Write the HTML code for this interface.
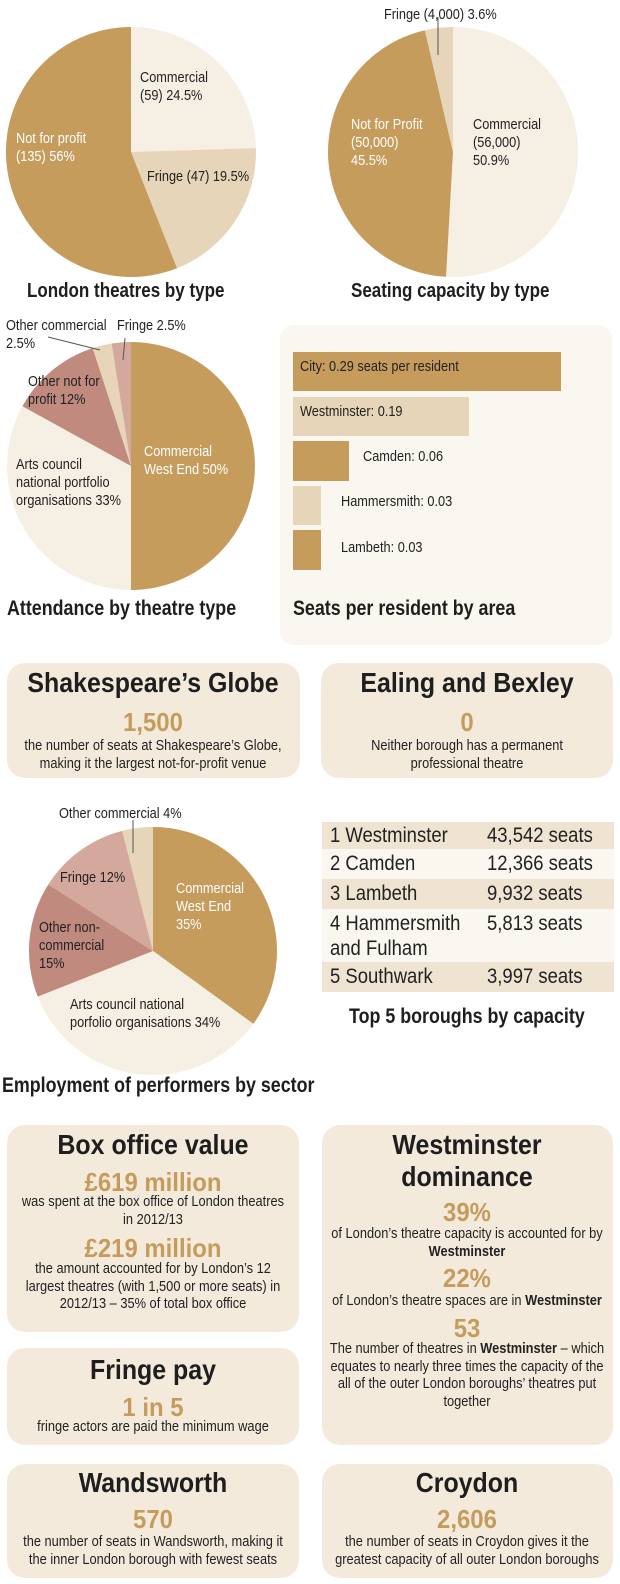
<!DOCTYPE html>
<html><head><meta charset="utf-8"><style>
body{margin:0;width:620px;height:1584px;background:#fff;position:relative;overflow:hidden;font-family:"Liberation Sans",sans-serif;color:#222}
.a{position:absolute;transform:scaleX(.85);transform-origin:left top;white-space:nowrap}
.t{font-weight:bold;font-size:20px;line-height:24px;color:#1e1e1e}
.l{font-size:15px;line-height:18px}
.w{color:#fff}
.box{position:absolute;background:#f3eadc;border-radius:18px}
.c{position:absolute;width:400px;text-align:center;white-space:nowrap;transform-origin:center top}
.h{font-weight:bold;font-size:28px;line-height:28px;color:#1e1e1e;transform:scaleX(.89)}
.h2{font-weight:bold;font-size:28px;line-height:32px;color:#1e1e1e;transform:scaleX(.89)}
.n{font-weight:bold;font-size:26px;line-height:26px;color:#c69c5d;transform:scaleX(.92)}
.p{font-size:15px;line-height:17.5px;color:#222;transform:scaleX(.855)}
.row{position:absolute;left:322px;width:292px;font-size:21px;color:#222}
.row span,.row i{position:absolute;transform:scaleX(.88);transform-origin:left top;white-space:nowrap;font-style:normal}
.row span{left:8px}
.row i{left:165px}
.bg{position:absolute}
</style></head><body>
<svg style="position:absolute;left:0;top:0" width="620" height="1100">
<path d="M131,152 L131,27 A125,125 0 0 1 255.9,148.1 Z" fill="#f6efe4"/>
<path d="M131,152 L255.9,148.1 A125,125 0 0 1 177,268.2 Z" fill="#e6d5b8"/>
<path d="M131,152 L177,268.2 A125,125 0 1 1 131,27 Z" fill="#c69c5d"/>
<path d="M453,152 L453,27 A125,125 0 1 1 446,276.8 Z" fill="#f6efe4"/>
<path d="M453,152 L446,276.8 A125,125 0 0 1 424.9,30.2 Z" fill="#c69c5d"/>
<path d="M453,152 L424.9,30.2 A125,125 0 0 1 453,27 Z" fill="#e6d5b8"/>
<line x1="438" y1="17" x2="438" y2="55" stroke="#555" stroke-width="1"/>
<path d="M131,466 L131,342 A124,124 0 0 1 131,590 Z" fill="#c69c5d"/>
<path d="M131,466 L131,590 A124,124 0 0 1 22.4,406.3 Z" fill="#f6efe4"/>
<path d="M131,466 L22.4,406.3 A124,124 0 0 1 92.7,348.1 Z" fill="#c08a7e"/>
<path d="M131,466 L92.7,348.1 A124,124 0 0 1 111.6,343.5 Z" fill="#e6d5b8"/>
<path d="M131,466 L111.6,343.5 A124,124 0 0 1 131,342 Z" fill="#d4a89c"/>
<line x1="48" y1="337" x2="100" y2="350" stroke="#555"/>
<line x1="125" y1="338" x2="123" y2="360" stroke="#555"/>
<path d="M153,951 L153,827 A124,124 0 0 1 253.3,1023.9 Z" fill="#c69c5d"/>
<path d="M153,951 L253.3,1023.9 A124,124 0 0 1 37.7,996.6 Z" fill="#f6efe4"/>
<path d="M153,951 L37.7,996.6 A124,124 0 0 1 48.3,884.5 Z" fill="#c08a7e"/>
<path d="M153,951 L48.3,884.5 A124,124 0 0 1 122.2,830.9 Z" fill="#d4a89c"/>
<path d="M153,951 L122.2,830.9 A124,124 0 0 1 153,827 Z" fill="#e6d5b8"/>
<line x1="133" y1="820" x2="133" y2="853" stroke="#555"/>
</svg>
<div class="a l" style="left:140px;top:69px">Commercial<br>(59) 24.5%</div>
<div class="a l w" style="left:16px;top:130px">Not for profit<br>(135) 56%</div>
<div class="a l" style="left:147px;top:168px">Fringe (47) 19.5%</div>
<div class="a t" style="left:27px;top:279px">London theatres by type</div>
<div class="a l" style="left:384px;top:6px">Fringe (4,000) 3.6%</div>
<div class="a l w" style="left:351px;top:116px">Not for Profit<br>(50,000)<br>45.5%</div>
<div class="a l" style="left:473px;top:116px">Commercial<br>(56,000)<br>50.9%</div>
<div class="a t" style="left:351px;top:279px">Seating capacity by type</div>
<div class="a l" style="left:6px;top:317px">Other commercial<br>2.5%</div>
<div class="a l" style="left:117px;top:317px">Fringe 2.5%</div>
<div class="a l" style="left:28px;top:373px">Other not for<br>profit 12%</div>
<div class="a l" style="left:16px;top:456px">Arts council<br>national portfolio<br>organisations 33%</div>
<div class="a l w" style="left:144px;top:443px">Commercial<br>West End 50%</div>
<div class="a t" style="left:7px;top:597px;font-size:21px">Attendance by theatre type</div>
<div class="bg" style="left:280px;top:325px;width:332px;height:320px;background:#faf6f0;border-radius:14px"></div>
<div class="bg" style="left:293px;top:352px;width:268px;height:39px;background:#c69c5d"></div>
<div class="bg" style="left:293px;top:397px;width:176px;height:39px;background:#e6d5b8"></div>
<div class="bg" style="left:293px;top:441px;width:56px;height:40px;background:#c69c5d"></div>
<div class="bg" style="left:293px;top:486px;width:28px;height:39px;background:#e6d5b8"></div>
<div class="bg" style="left:293px;top:530px;width:28px;height:40px;background:#c69c5d"></div>
<div class="a l" style="left:300px;top:358px">City: 0.29 seats per resident</div>
<div class="a l" style="left:300px;top:403px">Westminster: 0.19</div>
<div class="a l" style="left:363px;top:448px">Camden: 0.06</div>
<div class="a l" style="left:341px;top:493px">Hammersmith: 0.03</div>
<div class="a l" style="left:341px;top:539px">Lambeth: 0.03</div>
<div class="a t" style="left:293px;top:597px;font-size:21px">Seats per resident by area</div>

<div class="box" style="left:7px;top:663px;width:293px;height:115px"></div>
<div class="box" style="left:321px;top:663px;width:292px;height:115px"></div>
<div class="c h" style="left:-47px;top:669px">Shakespeare’s Globe</div>
<div class="c n" style="left:-47px;top:709px">1,500</div>
<div class="c p" style="left:-47px;top:737px">the number of seats at Shakespeare’s Globe,<br>making it the largest not-for-profit venue</div>
<div class="c h" style="left:267px;top:669px">Ealing and Bexley</div>
<div class="c n" style="left:267px;top:709px">0</div>
<div class="c p" style="left:267px;top:737px">Neither borough has a permanent<br>professional theatre</div>

<div class="a l" style="left:59px;top:805px">Other commercial 4%</div>
<div class="a l" style="left:60px;top:869px">Fringe 12%</div>
<div class="a l" style="left:39px;top:919px">Other non-<br>commercial<br>15%</div>
<div class="a l w" style="left:176px;top:880px">Commercial<br>West End<br>35%</div>
<div class="a l" style="left:70px;top:996px">Arts council national<br>porfolio organisations 34%</div>
<div class="a t" style="left:2px;top:1074px;font-size:21px">Employment of performers by sector</div>
<div class="row" style="top:822px;height:27px;line-height:27px;background:#efe3d2"><span>1 Westminster</span><i>43,542 seats</i></div>
<div class="row" style="top:849px;height:30px;line-height:30px;background:#faf6f0"><span>2 Camden</span><i>12,366 seats</i></div>
<div class="row" style="top:879px;height:30px;line-height:30px;background:#efe3d2"><span>3 Lambeth</span><i>9,932 seats</i></div>
<div class="row" style="top:909px;height:53px;line-height:25px;background:#faf6f0"><span style="top:2px">4 Hammersmith<br>and Fulham</span><i style="top:2px">5,813 seats</i></div>
<div class="row" style="top:962px;height:30px;line-height:30px;background:#efe3d2"><span>5 Southwark</span><i>3,997 seats</i></div>
<div class="a t" style="left:349px;top:1005px;font-size:21px">Top 5 boroughs by capacity</div>

<div class="box" style="left:7px;top:1125px;width:292px;height:207px"></div>
<div class="box" style="left:7px;top:1348px;width:292px;height:97px"></div>
<div class="box" style="left:7px;top:1464px;width:292px;height:114px"></div>
<div class="box" style="left:322px;top:1125px;width:291px;height:320px"></div>
<div class="box" style="left:322px;top:1464px;width:291px;height:114px"></div>

<div class="c h" style="left:-47px;top:1131px">Box office value</div>
<div class="c n" style="left:-47px;top:1169px">£619 million</div>
<div class="c p" style="left:-47px;top:1193px">was spent at the box office of London theatres<br>in 2012/13</div>
<div class="c n" style="left:-47px;top:1235px">£219 million</div>
<div class="c p" style="left:-47px;top:1260px">the amount accounted for by London’s 12<br>largest theatres (with 1,500 or more seats) in<br>2012/13 – 35% of total box office</div>

<div class="c h" style="left:-47px;top:1356px">Fringe pay</div>
<div class="c n" style="left:-47px;top:1394px">1 in 5</div>
<div class="c p" style="left:-47px;top:1418px">fringe actors are paid the minimum wage</div>

<div class="c h" style="left:-47px;top:1469px">Wandsworth</div>
<div class="c n" style="left:-47px;top:1506px">570</div>
<div class="c p" style="left:-47px;top:1533px">the number of seats in Wandsworth, making it<br>the inner London borough with fewest seats</div>

<div class="c h2" style="left:267px;top:1129px">Westminster<br>dominance</div>
<div class="c n" style="left:267px;top:1199px">39%</div>
<div class="c p" style="left:267px;top:1225px">of London’s theatre capacity is accounted for by<br><b>Westminster</b></div>
<div class="c n" style="left:267px;top:1265px">22%</div>
<div class="c p" style="left:267px;top:1292px">of London’s theatre spaces are in <b>Westminster</b></div>
<div class="c n" style="left:267px;top:1315px">53</div>
<div class="c p" style="left:267px;top:1340px">The number of theatres in <b>Westminster</b> – which<br>equates to nearly three times the capacity of the<br>all of the outer London boroughs’ theatres put<br>together</div>

<div class="c h" style="left:267px;top:1469px">Croydon</div>
<div class="c n" style="left:267px;top:1506px">2,606</div>
<div class="c p" style="left:267px;top:1533px">the number of seats in Croydon gives it the<br>greatest capacity of all outer London boroughs</div>
</body></html>
